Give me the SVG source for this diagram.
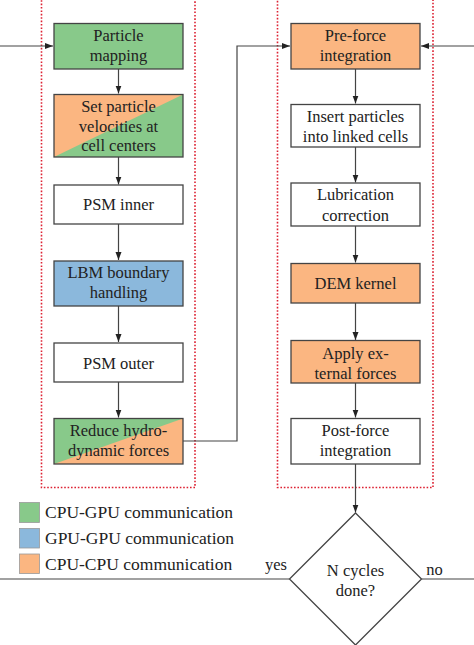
<svg xmlns="http://www.w3.org/2000/svg" width="474" height="645" viewBox="0 0 474 645">
<style>
text{font-family:'Liberation Serif','DejaVu Serif',serif;font-size:16.5px;fill:#222;text-anchor:middle}
.n{stroke:#444;stroke-width:1.3}
.w{fill:#fff}
.g{fill:#88c98a}
.o{fill:#fbb681}
.b{fill:#8bb8dc}
.c{fill:none;stroke:#444;stroke-width:1.2}
.grp{fill:none;stroke:#dd2233;stroke-width:1.6;stroke-dasharray:1.6 1.8}
.lg{text-anchor:start;font-size:17.5px}
</style>
<defs>
<marker id="ah" viewBox="0 0 8 8" refX="8" refY="4" markerWidth="8" markerHeight="8" markerUnits="userSpaceOnUse" orient="auto">
<path d="M0,1 L8,4 L0,7 z" fill="#222"/>
</marker>
</defs>
<rect class="grp" x="41.5" y="-5" width="153.5" height="492.5"/>
<rect class="grp" x="277.5" y="-5" width="155.5" height="492.5"/>
<g id="connectors">
<path class="c" d="M0,46 H53" marker-end="url(#ah)"/>
<path class="c" d="M474,46 H421" marker-end="url(#ah)"/>
<path class="c" d="M183,441 H237 V46 H290" marker-end="url(#ah)"/>
<path class="c" d="M118.5,69 V93.5" marker-end="url(#ah)"/>
<path class="c" d="M118.5,157 V184.5" marker-end="url(#ah)"/>
<path class="c" d="M118.5,224 V260" marker-end="url(#ah)"/>
<path class="c" d="M118.5,306 V342" marker-end="url(#ah)"/>
<path class="c" d="M118.5,382 V417.5" marker-end="url(#ah)"/>
<path class="c" d="M355.5,69 V103.5" marker-end="url(#ah)"/>
<path class="c" d="M355.5,147 V182.5" marker-end="url(#ah)"/>
<path class="c" d="M355.5,226 V262.5" marker-end="url(#ah)"/>
<path class="c" d="M355.5,303 V340" marker-end="url(#ah)"/>
<path class="c" d="M355.5,383 V417.5" marker-end="url(#ah)"/>
<path class="c" d="M355.5,464 V512.5" marker-end="url(#ah)"/>
<path class="c" d="M289.5,579 H0"/>
<path class="c" d="M421.5,579 H474"/>
</g>
<g id="particle-mapping">
<rect class="n g" x="54" y="23.5" width="129" height="45.5"/>
<text x="118.5" y="40.5">Particle</text><text x="118.5" y="60.5">mapping</text>
</g>
<g id="set-velocities">
<rect class="g" x="54" y="94.5" width="129" height="62.5"/>
<path class="o" d="M54,94.5 H183 L54,157 z"/>
<rect class="n" fill="none" x="54" y="94.5" width="129" height="62.5"/>
<text x="118.5" y="112">Set particle</text><text x="118.5" y="131.5">velocities at</text><text x="118.5" y="151">cell centers</text>
</g>
<g id="psm-inner">
<rect class="n w" x="54" y="185" width="129" height="39"/>
<text x="118.5" y="210">PSM inner</text>
</g>
<g id="lbm-boundary">
<rect class="n b" x="54" y="261" width="129" height="45"/>
<text x="118.5" y="278">LBM boundary</text><text x="118.5" y="298">handling</text>
</g>
<g id="psm-outer">
<rect class="n w" x="54" y="343" width="129" height="39"/>
<text x="118.5" y="369">PSM outer</text>
</g>
<g id="reduce-forces">
<rect class="o" x="54" y="418.5" width="129" height="45.5"/>
<path class="g" d="M54,418.5 H183 L54,464 z"/>
<rect class="n" fill="none" x="54" y="418.5" width="129" height="45.5"/>
<text x="118.5" y="436">Reduce hydro-</text><text x="118.5" y="456">dynamic forces</text>
</g>
<g id="pre-force">
<rect class="n o" x="291" y="23.5" width="129" height="45.5"/>
<text x="355.5" y="40.5">Pre-force</text><text x="355.5" y="60.5">integration</text>
</g>
<g id="insert-particles">
<rect class="n w" x="291" y="104.5" width="129" height="42.5"/>
<text x="355.5" y="122">Insert particles</text><text x="355.5" y="141.5">into linked cells</text>
</g>
<g id="lubrication">
<rect class="n w" x="291" y="183" width="129" height="43"/>
<text x="355.5" y="200">Lubrication</text><text x="355.5" y="220.5">correction</text>
</g>
<g id="dem-kernel">
<rect class="n o" x="291" y="263.5" width="129" height="39.5"/>
<text x="355.5" y="289">DEM kernel</text>
</g>
<g id="external-forces">
<rect class="n o" x="291" y="340.5" width="129" height="42.5"/>
<text x="355.5" y="359">Apply ex-</text><text x="355.5" y="379">ternal forces</text>
</g>
<g id="post-force">
<rect class="n w" x="291" y="418.5" width="129" height="45.5"/>
<text x="355.5" y="436">Post-force</text><text x="355.5" y="456">integration</text>
</g>
<g id="n-cycles">
<path class="n w" d="M355.5,513 L421.5,579 L355.5,645 L289.5,579 z"/>
<text x="355.5" y="575.5">N cycles</text><text x="355.5" y="595.5">done?</text>
</g>
<text x="276" y="570">yes</text>
<text x="434.5" y="575">no</text>
<g id="legend">
<rect class="g" x="19.5" y="502.5" width="20" height="20" stroke="#999" stroke-width="0.8"/>
<text class="lg" x="45" y="517.5">CPU-GPU communication</text>
<rect class="b" x="19.5" y="528.5" width="20" height="19.5" stroke="#999" stroke-width="0.8"/>
<text class="lg" x="45" y="543.5">GPU-GPU communication</text>
<rect class="o" x="19.5" y="554" width="20" height="19.5" stroke="#999" stroke-width="0.8"/>
<text class="lg" x="45" y="569.5">CPU-CPU communication</text>
</g>
</svg>
